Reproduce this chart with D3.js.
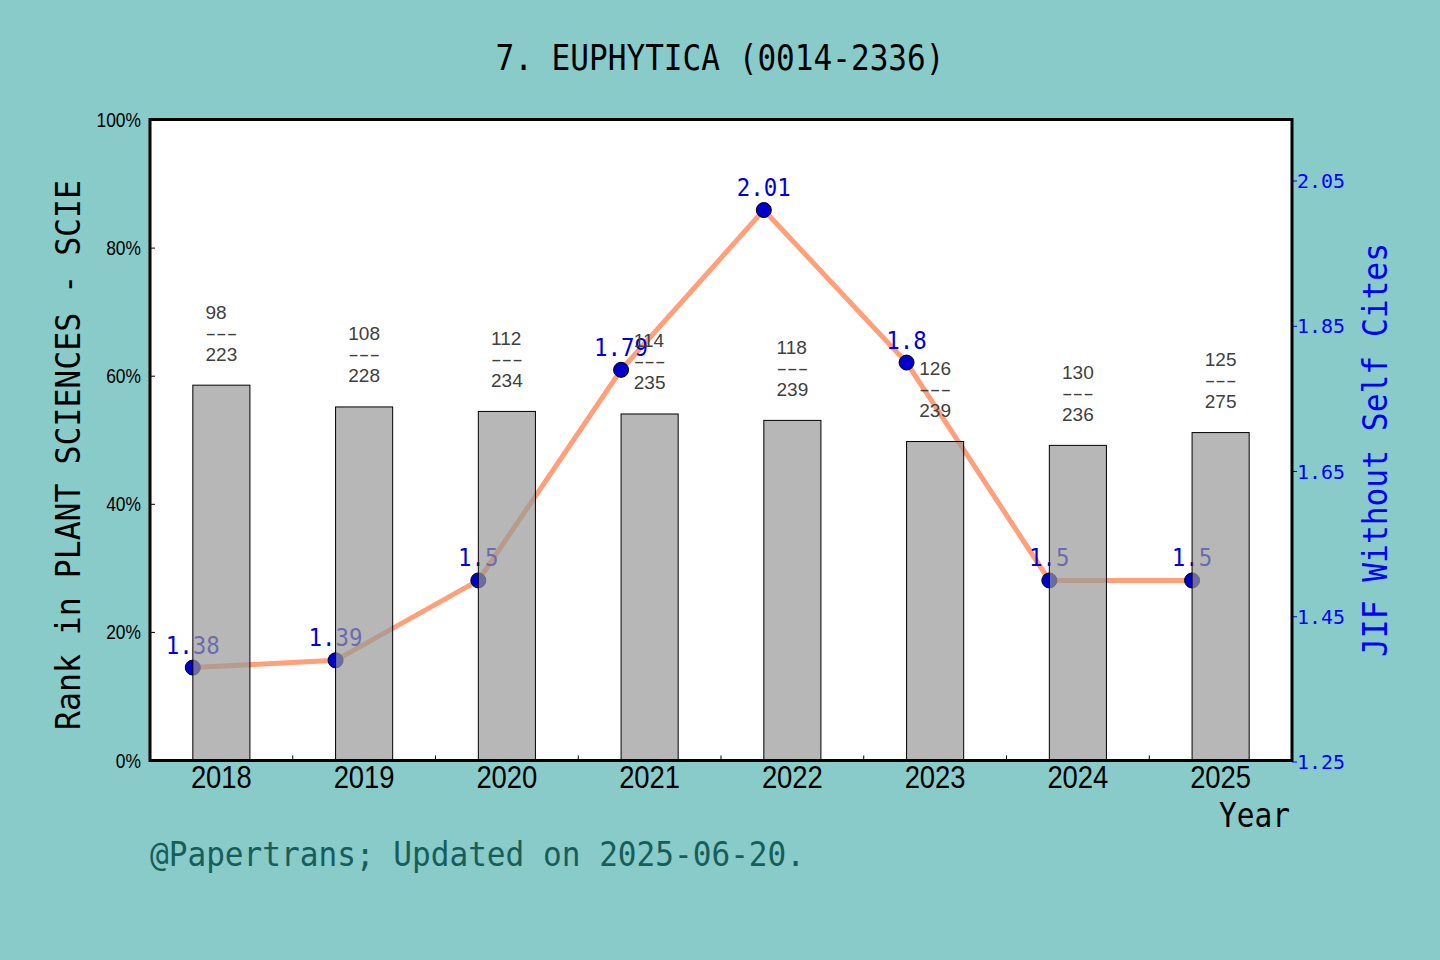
<!DOCTYPE html>
<html>
<head>
<meta charset="utf-8">
<script src="https://cdn.jsdelivr.net/npm/d3@7"></script>
<style>
  body { margin: 0; background: #88cbc9; }
  svg { display: block; }
</style>
</head>
<body>
<script>
// data
const years = ["2018", "2019", "2020", "2021", "2022", "2023", "2024", "2025"];
const rankPct = [58.6, 55.2, 54.5, 54.1, 53.1, 49.8, 49.2, 51.2];
const rankNum = [98, 108, 112, 114, 118, 126, 130, 125];
const rankTotal = [223, 228, 234, 235, 239, 239, 236, 275];
const jif = [1.38, 1.39, 1.5, 1.79, 2.01, 1.8, 1.5, 1.5];
const jifText = ["1.38", "1.39", "1.5", "1.79", "2.01", "1.8", "1.5", "1.5"];
const pctTicks = [0, 20, 40, 60, 80, 100];
const jifTicks = [1.25, 1.45, 1.65, 1.85, 2.05];

const width = 1440;
const height = 960;
const plotLeft = 150, plotRight = 1292, plotTop = 120, plotBottom = 760.5;

const mono = "'DejaVu Sans Mono', monospace";
const sans = "'Liberation Sans', Arial, sans-serif";

let svg = d3.select('body')
            .append('svg')
            .attr('width', width)
            .attr('height', height);

svg.append('rect')
   .attr('width', width)
   .attr('height', height)
   .attr('fill', '#88cbc9');

let x = d3.scaleBand()
          .domain(years)
          .range([plotLeft, plotRight])
          .paddingInner(0.6)
          .paddingOuter(0.3);

let y = d3.scaleLinear()
          .domain([0, 100])
          .range([plotBottom, plotTop]);

let y2 = d3.scaleLinear()
           .domain([1.25, 2.05])
           .range([762, 181]);

// plot background
svg.append('rect')
   .attr('x', plotLeft)
   .attr('y', plotTop)
   .attr('width', plotRight - plotLeft)
   .attr('height', plotBottom - plotTop)
   .attr('fill', 'white');

// title
svg.append('text')
   .attr('x', 720)
   .attr('y', 70)
   .attr('text-anchor', 'middle')
   .attr('font-family', mono)
   .attr('font-size', 35)
   .attr('textLength', 449)
   .attr('lengthAdjust', 'spacingAndGlyphs')
   .text('7. EUPHYTICA (0014-2336)');

// JIF line, markers and labels (bars sit on top of them)
let line = d3.line()
             .x((d, i) => x(years[i]))
             .y(d => y2(d));

svg.append('path')
   .datum(jif)
   .attr('d', line)
   .attr('fill', 'none')
   .attr('stroke', '#ffa07a')
   .attr('stroke-width', 5);

svg.selectAll('circle.jif')
   .data(jif)
   .enter()
   .append('circle')
   .attr('class', 'jif')
   .attr('cx', (d, i) => x(years[i]))
   .attr('cy', d => y2(d))
   .attr('r', 7.5)
   .attr('fill', '#0000cc')
   .attr('stroke', 'black')
   .attr('stroke-width', 1);

svg.selectAll('text.jif')
   .data(jif)
   .enter()
   .append('text')
   .attr('class', 'jif')
   .attr('x', (d, i) => x(years[i]))
   .attr('y', d => y2(d) - 14)
   .attr('text-anchor', 'middle')
   .attr('font-family', mono)
   .attr('font-size', 24)
   .attr('fill', '#0000dd')
   .attr('textLength', (d, i) => jifText[i].length * 13.5)
   .attr('lengthAdjust', 'spacingAndGlyphs')
   .text((d, i) => jifText[i]);

// bars
svg.selectAll('rect.bar')
   .data(rankPct)
   .enter()
   .append('rect')
   .attr('class', 'bar')
   .attr('x', (d, i) => x(years[i]))
   .attr('y', d => y(d))
   .attr('width', x.bandwidth())
   .attr('height', d => y(0) - y(d))
   .attr('fill', '#999999')
   .attr('fill-opacity', 0.7)
   .attr('stroke', 'black')
   .attr('stroke-width', 1);

// rank fraction labels
rankPct.forEach((d, i) => {
    let cx = x(years[i]) + x.bandwidth() / 2;
    let cy = y(d) - 52;
    let g = svg.append('g');
    let lines = [String(rankNum[i]), '---', String(rankTotal[i])];
    let texts = lines.map((s, k) => g.append('text')
        .attr('y', cy + (k - 1) * 21)
        .attr('dominant-baseline', 'central')
        .attr('font-family', sans)
        .attr('font-size', 19)
        .attr('fill', '#404040')
        .text(s));
    let w = Math.max(texts[0].node().getComputedTextLength(),
                     texts[2].node().getComputedTextLength());
    texts[1].attr('textLength', w).attr('lengthAdjust', 'spacingAndGlyphs');
    texts.forEach(t => t.attr('x', cx - w / 2));
});

// bottom ticks at the boundaries between years
let step = x.step();
svg.selectAll('line.xtick')
   .data(years.slice(1))
   .enter()
   .append('line')
   .attr('class', 'xtick')
   .attr('x1', d => x(d) + x.bandwidth() / 2 - step / 2)
   .attr('x2', d => x(d) + x.bandwidth() / 2 - step / 2)
   .attr('y1', plotBottom)
   .attr('y2', plotBottom - 5)
   .attr('stroke', 'black');

svg.selectAll('text.year')
   .data(years)
   .enter()
   .append('text')
   .attr('class', 'year')
   .attr('x', d => x(d) + x.bandwidth() / 2)
   .attr('y', 788)
   .attr('text-anchor', 'middle')
   .attr('font-family', sans)
   .attr('font-size', 31)
   .attr('textLength', 61)
   .attr('lengthAdjust', 'spacingAndGlyphs')
   .text(d => d);

// left axis
svg.selectAll('line.ytick')
   .data(pctTicks)
   .enter()
   .append('line')
   .attr('class', 'ytick')
   .attr('x1', plotLeft)
   .attr('x2', plotLeft + 5)
   .attr('y1', d => y(d))
   .attr('y2', d => y(d))
   .attr('stroke', 'black');

svg.selectAll('text.ytick')
   .data(pctTicks)
   .enter()
   .append('text')
   .attr('class', 'ytick')
   .attr('x', 141)
   .attr('y', d => y(d))
   .attr('text-anchor', 'end')
   .attr('dominant-baseline', 'central')
   .attr('font-family', sans)
   .attr('font-size', 20)
   .text(d => d + '%')
   .each(function() {
       this.setAttribute('textLength', this.getComputedTextLength() * 0.87);
       this.setAttribute('lengthAdjust', 'spacingAndGlyphs');
   });

// right axis
svg.selectAll('line.y2tick')
   .data(jifTicks)
   .enter()
   .append('line')
   .attr('class', 'y2tick')
   .attr('x1', plotRight)
   .attr('x2', plotRight + 5)
   .attr('y1', d => y2(d))
   .attr('y2', d => y2(d))
   .attr('stroke', 'blue');

svg.selectAll('text.y2tick')
   .data(jifTicks)
   .enter()
   .append('text')
   .attr('class', 'y2tick')
   .attr('x', 1297)
   .attr('y', d => y2(d))
   .attr('dominant-baseline', 'central')
   .attr('font-family', mono)
   .attr('font-size', 19)
   .attr('fill', 'blue')
   .attr('textLength', 48)
   .attr('lengthAdjust', 'spacingAndGlyphs')
   .text(d => d.toFixed(2));

// frame
svg.append('rect')
   .attr('x', plotLeft)
   .attr('y', plotTop - 0.5)
   .attr('width', plotRight - plotLeft)
   .attr('height', plotBottom - plotTop + 0.5)
   .attr('fill', 'none')
   .attr('stroke', 'black')
   .attr('stroke-width', 3);

// axis titles
svg.append('text')
   .attr('transform', 'translate(80,455) rotate(-90)')
   .attr('text-anchor', 'middle')
   .attr('font-family', mono)
   .attr('font-size', 33)
   .attr('textLength', 550)
   .attr('lengthAdjust', 'spacingAndGlyphs')
   .text('Rank in PLANT SCIENCES - SCIE');

svg.append('text')
   .attr('transform', 'translate(1387,450) rotate(-90)')
   .attr('text-anchor', 'middle')
   .attr('font-family', mono)
   .attr('font-size', 33)
   .attr('fill', 'blue')
   .attr('textLength', 414)
   .attr('lengthAdjust', 'spacingAndGlyphs')
   .text('JIF Without Self Cites');

svg.append('text')
   .attr('x', 1290)
   .attr('y', 827)
   .attr('text-anchor', 'end')
   .attr('font-family', mono)
   .attr('font-size', 33)
   .attr('textLength', 71)
   .attr('lengthAdjust', 'spacingAndGlyphs')
   .text('Year');

// footer
svg.append('text')
   .attr('x', 150)
   .attr('y', 866)
   .attr('font-family', mono)
   .attr('font-size', 33)
   .attr('fill', '#175e5a')
   .attr('textLength', 655)
   .attr('lengthAdjust', 'spacingAndGlyphs')
   .text('@Papertrans; Updated on 2025-06-20.');
</script>
</body>
</html>
